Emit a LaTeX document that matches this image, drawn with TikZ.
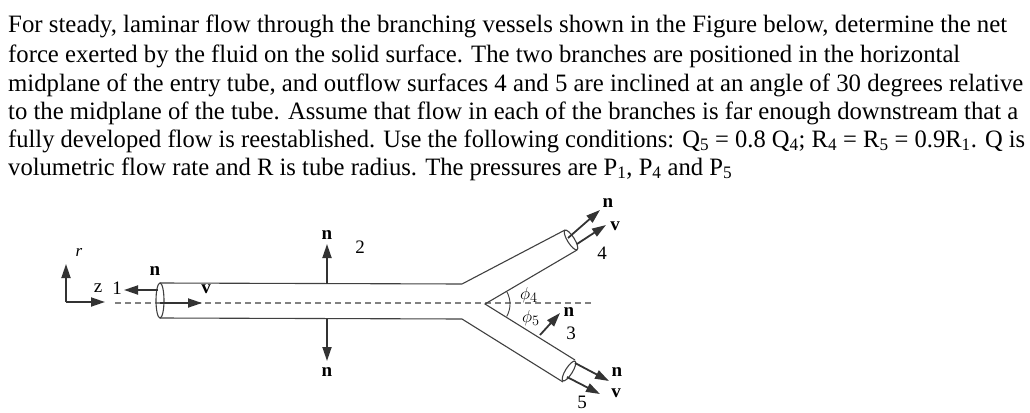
\documentclass[tikz,border=0pt]{standalone}
\usepackage{fontspec}
\usepackage{graphicx}
\setmainfont{Liberation Serif}
\usetikzlibrary{arrows.meta}
\tikzset{
 txt/.style={anchor=base west,inner sep=0pt,font=\fontsize{25}{28}\selectfont},
 lbl/.style={inner sep=0pt,font=\fontsize{19}{21}\selectfont},
 tube/.style={draw=black!75,line width=1.1pt},
 arr/.style={-{Triangle[length=14pt,width=9pt]},line width=1.8pt,draw=black!80},
 axisdash/.style={dashed,dash pattern=on 6pt off 4pt,draw=black!50,line width=1.1pt}
}
\newcommand{\sbs}[1]{\textsubscript{#1}}
\newcommand{\fitline}[2]{\resizebox{#1pt}{\height}{#2}}
\begin{document}
\begin{tikzpicture}[x=1pt,y=-1pt]
\useasboundingbox (0,0) rectangle (1030,412);
\node[txt] (l1) at (8,33) {\fitline{999}{For steady, laminar flow through the branching vessels shown in the Figure below, determine the net}};
\node[txt] (l2) at (8,62) {\fitline{952}{force exerted by the fluid on the solid surface. The two branches are positioned in the horizontal}};
\node[txt] (l3) at (8,91) {\fitline{1015}{midplane of the entry tube, and outflow surfaces 4 and 5 are inclined at an angle of 30 degrees relative}};
\node[txt] (l4) at (8,119) {\fitline{1010}{to the midplane of the tube. Assume that flow in each of the branches is far enough downstream that a}};
\node[txt] (l5) at (8,147) {\fitline{1017}{fully developed flow is reestablished. Use the following conditions: Q\sbs{5} = 0.8 Q\sbs{4}; R\sbs{4} = R\sbs{5} = 0.9R\sbs{1}. Q is}};
\node[txt] (l6) at (8,175) {\fitline{724}{volumetric flow rate and R is tube radius. The pressures are P\sbs{1}, P\sbs{4} and P\sbs{5}}};
% coordinates
\coordinate (o) at (66,302);
\coordinate (rt) at (66,264);
\coordinate (zt) at (105,302);
\coordinate (d0) at (115,303);
\coordinate (d1) at (592,303);
\coordinate (a) at (160,283);
\coordinate (b) at (160,318);
\coordinate (jt) at (462,284);
\coordinate (jb) at (462,319);
\coordinate (ap) at (485,304);
\coordinate (ut) at (565,230);
\coordinate (ui) at (577,250);
\coordinate (lt) at (575,360);
\coordinate (lo) at (563,382);
% dashed axis
\draw[axisdash] (d0) -- (d1);
% axes
\draw[arr] (o) -- (rt);
\draw[arr] (o) -- (zt);
\node[lbl,font=\itshape\fontsize{17}{19}\selectfont] (r) at (79,252) {r};
\node[lbl] (z) at (98,288) {z};
% tube
\draw[tube] (a) -- (jt) -- (ut);
\draw[tube] (ui) -- (ap) -- (lt);
\draw[tube] (lo) -- (jb) -- (b);
\draw[tube] (160,300.5) ellipse (4 and 17.5);
\draw[tube,rotate around={32:(571,240)}] (571,240) ellipse (3.5 and 11.5);
\draw[tube,rotate around={-32:(569,371)}] (569,371) ellipse (3.5 and 11.5);
% angle arc
\draw[tube,line width=0.9pt] (ap) ++(30:25) arc (30:-30:25);
\node[lbl] (p4) at (529,295) {$\phi_4$};
\node[lbl] (p5) at (531,318) {$\phi_5$};
% arrows
\coordinate (n1s) at (158,290); \coordinate (n1e) at (124,290);
\draw[arr] (n1s) -- (n1e);
\node[lbl] (n1) at (155,271) {\bfseries n};
\node[lbl] (one) at (117,288) {1};
\coordinate (v1e) at (202,303);
\draw[arr] (160,303) -- (v1e);
\node[lbl] (v1) at (206,289) {\bfseries v};
\coordinate (n2u) at (327,244); \coordinate (n2d) at (327,361);
\draw[arr] (327,284) -- (n2u);
\draw[arr] (327,319) -- (n2d);
\node[lbl] (n2a) at (327,235) {\bfseries n};
\node[lbl] (n2b) at (327,372) {\bfseries n};
\node[lbl] (two) at (360,247) {2};
\coordinate (n3s) at (540,335); \coordinate (n3e) at (560,313);
\draw[arr] (n3s) -- (n3e);
\node[lbl] (n3) at (569,312) {\bfseries n};
\node[lbl] (three) at (571,333) {3};
\draw[arr] (568,238) -- (600,210);
\draw[arr] (577,244) -- (606,225);
\node[lbl] (n4) at (608,203) {\bfseries n};
\node[lbl] (v4) at (615,226) {\bfseries v};
\node[lbl] (four) at (602,253) {4};
\draw[arr] (575,363) -- (609,381);
\draw[arr] (567,377) -- (600,394);
\node[lbl] (n5) at (617,372) {\bfseries n};
\node[lbl] (v5) at (616,393) {\bfseries v};
\node[lbl] (five) at (582,402) {5};
\end{tikzpicture}
\end{document}
